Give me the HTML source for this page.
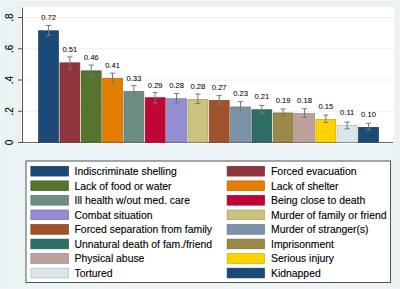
<!DOCTYPE html>
<html><head><meta charset="utf-8"><style>
html,body{margin:0;padding:0;width:400px;height:289px;overflow:hidden;background:#EAF2F3}
svg text{font-family:"Liberation Sans",sans-serif;stroke:#000;stroke-width:0.12px}
</style></head><body>
<svg width="400" height="289" viewBox="0 0 400 289" style="display:block"><rect x="0" y="0" width="400" height="289" fill="#EAF2F3"/><rect x="0.5" y="0.5" width="399" height="288" fill="none" stroke="#F1F7F8" stroke-width="1"/><rect x="21.5" y="7" width="373" height="137" fill="#fff"/><line x1="18" x2="393.5" y1="142.5" y2="142.5" stroke="#666" stroke-width="1"/><line x1="22.5" x2="394.5" y1="111.25" y2="111.25" stroke="#ECEFEF" stroke-width="1"/><line x1="22.5" x2="394.5" y1="80.00" y2="80.00" stroke="#ECEFEF" stroke-width="1"/><line x1="22.5" x2="394.5" y1="48.75" y2="48.75" stroke="#ECEFEF" stroke-width="1"/><line x1="22.5" x2="394.5" y1="17.50" y2="17.50" stroke="#ECEFEF" stroke-width="1"/><rect x="38.60" y="30.80" width="19.90" height="111.35" fill="#1C4A77" stroke="#163c61" stroke-width="0.7"/><rect x="59.93" y="62.85" width="19.90" height="79.30" fill="#90353B" stroke="#762b30" stroke-width="0.7"/><rect x="81.26" y="70.85" width="19.90" height="71.30" fill="#55752F" stroke="#455f26" stroke-width="0.7"/><rect x="102.59" y="78.25" width="19.90" height="63.90" fill="#E37E00" stroke="#ba6700" stroke-width="0.7"/><rect x="123.92" y="91.35" width="19.90" height="50.80" fill="#6E8E84" stroke="#5a746c" stroke-width="0.7"/><rect x="145.25" y="97.75" width="19.90" height="44.40" fill="#C10534" stroke="#9e042a" stroke-width="0.7"/><rect x="166.58" y="98.75" width="19.90" height="43.40" fill="#938DD2" stroke="#7873ac" stroke-width="0.7"/><rect x="187.91" y="99.35" width="19.90" height="42.80" fill="#CAC27E" stroke="#a59f67" stroke-width="0.7"/><rect x="209.24" y="100.35" width="19.90" height="41.80" fill="#A0522D" stroke="#834324" stroke-width="0.7"/><rect x="230.57" y="106.95" width="19.90" height="35.20" fill="#7B92A8" stroke="#647789" stroke-width="0.7"/><rect x="251.90" y="109.75" width="19.90" height="32.40" fill="#2D6D66" stroke="#245953" stroke-width="0.7"/><rect x="273.23" y="112.95" width="19.90" height="29.20" fill="#9C8847" stroke="#7f6f3a" stroke-width="0.7"/><rect x="294.56" y="113.60" width="19.90" height="28.55" fill="#BFA19C" stroke="#9c847f" stroke-width="0.7"/><rect x="315.89" y="119.35" width="19.90" height="22.80" fill="#FFD200" stroke="#d1ac00" stroke-width="0.7"/><rect x="337.22" y="125.35" width="19.90" height="16.80" fill="#D9E6EB" stroke="#b1bcc0" stroke-width="0.7"/><rect x="358.55" y="127.35" width="19.90" height="14.80" fill="#1C4A77" stroke="#163c61" stroke-width="0.7"/><path d="M48.55 25.60V35.40M45.95 25.60H51.15M45.95 35.40H51.15" stroke="#777" stroke-width="1" fill="none"/><text x="48.55" y="19.60" font-size="7.6" text-anchor="middle" fill="#000" style="stroke-width:0.05px">0.72</text><path d="M69.88 56.90V69.10M67.28 56.90H72.48M67.28 69.10H72.48" stroke="#777" stroke-width="1" fill="none"/><text x="69.88" y="51.70" font-size="7.6" text-anchor="middle" fill="#000" style="stroke-width:0.05px">0.51</text><path d="M91.21 65.10V75.90M88.61 65.10H93.81M88.61 75.90H93.81" stroke="#777" stroke-width="1" fill="none"/><text x="91.21" y="60.10" font-size="7.6" text-anchor="middle" fill="#000" style="stroke-width:0.05px">0.46</text><path d="M112.54 73.15V82.65M109.94 73.15H115.14M109.94 82.65H115.14" stroke="#777" stroke-width="1" fill="none"/><text x="112.54" y="67.80" font-size="7.6" text-anchor="middle" fill="#000" style="stroke-width:0.05px">0.41</text><path d="M133.87 85.60V96.40M131.27 85.60H136.47M131.27 96.40H136.47" stroke="#777" stroke-width="1" fill="none"/><text x="133.87" y="80.60" font-size="7.6" text-anchor="middle" fill="#000" style="stroke-width:0.05px">0.33</text><path d="M155.20 92.40V103.00M152.60 92.40H157.80M152.60 103.00H157.80" stroke="#777" stroke-width="1" fill="none"/><text x="155.20" y="87.60" font-size="7.6" text-anchor="middle" fill="#000" style="stroke-width:0.05px">0.29</text><path d="M176.53 93.50V103.00M173.93 93.50H179.13M173.93 103.00H179.13" stroke="#777" stroke-width="1" fill="none"/><text x="176.53" y="87.85" font-size="7.6" text-anchor="middle" fill="#000" style="stroke-width:0.05px">0.28</text><path d="M197.86 94.00V103.60M195.26 94.00H200.46M195.26 103.60H200.46" stroke="#777" stroke-width="1" fill="none"/><text x="197.86" y="88.60" font-size="7.6" text-anchor="middle" fill="#000" style="stroke-width:0.05px">0.28</text><path d="M219.19 95.60V104.40M216.59 95.60H221.79M216.59 104.40H221.79" stroke="#777" stroke-width="1" fill="none"/><text x="219.19" y="89.80" font-size="7.6" text-anchor="middle" fill="#000" style="stroke-width:0.05px">0.27</text><path d="M240.52 101.60V110.40M237.92 101.60H243.12M237.92 110.40H243.12" stroke="#777" stroke-width="1" fill="none"/><text x="240.52" y="95.60" font-size="7.6" text-anchor="middle" fill="#000" style="stroke-width:0.05px">0.23</text><path d="M261.85 105.40V113.00M259.25 105.40H264.45M259.25 113.00H264.45" stroke="#777" stroke-width="1" fill="none"/><text x="261.85" y="99.40" font-size="7.6" text-anchor="middle" fill="#000" style="stroke-width:0.05px">0.21</text><path d="M283.18 109.00V115.60M280.58 109.00H285.78M280.58 115.60H285.78" stroke="#777" stroke-width="1" fill="none"/><text x="283.18" y="103.35" font-size="7.6" text-anchor="middle" fill="#000" style="stroke-width:0.05px">0.19</text><path d="M304.51 108.75V117.50M301.91 108.75H307.11M301.91 117.50H307.11" stroke="#777" stroke-width="1" fill="none"/><text x="304.51" y="102.50" font-size="7.6" text-anchor="middle" fill="#000" style="stroke-width:0.05px">0.18</text><path d="M325.84 115.00V122.50M323.24 115.00H328.44M323.24 122.50H328.44" stroke="#777" stroke-width="1" fill="none"/><text x="325.84" y="108.50" font-size="7.6" text-anchor="middle" fill="#000" style="stroke-width:0.05px">0.15</text><path d="M347.17 122.00V128.75M344.57 122.00H349.77M344.57 128.75H349.77" stroke="#777" stroke-width="1" fill="none"/><text x="347.17" y="115.40" font-size="7.6" text-anchor="middle" fill="#000" style="stroke-width:0.05px">0.11</text><path d="M368.50 123.25V130.00M365.90 123.25H371.10M365.90 130.00H371.10" stroke="#777" stroke-width="1" fill="none"/><text x="368.50" y="117.35" font-size="7.6" text-anchor="middle" fill="#000" style="stroke-width:0.05px">0.10</text><line x1="22.5" x2="22.5" y1="7.5" y2="143.0" stroke="#555" stroke-width="1"/><line x1="18" x2="22.5" y1="142.50" y2="142.50" stroke="#555" stroke-width="1"/><text transform="translate(13.3 142.50) rotate(-90)" font-size="10" text-anchor="middle" fill="#000">0</text><line x1="18" x2="22.5" y1="111.25" y2="111.25" stroke="#555" stroke-width="1"/><text transform="translate(13.3 111.25) rotate(-90)" font-size="10" text-anchor="middle" fill="#000">.2</text><line x1="18" x2="22.5" y1="80.00" y2="80.00" stroke="#555" stroke-width="1"/><text transform="translate(13.3 80.00) rotate(-90)" font-size="10" text-anchor="middle" fill="#000">.4</text><line x1="18" x2="22.5" y1="48.75" y2="48.75" stroke="#555" stroke-width="1"/><text transform="translate(13.3 48.75) rotate(-90)" font-size="10" text-anchor="middle" fill="#000">.6</text><line x1="18" x2="22.5" y1="17.50" y2="17.50" stroke="#555" stroke-width="1"/><text transform="translate(13.3 17.50) rotate(-90)" font-size="10" text-anchor="middle" fill="#000">.8</text><rect x="26" y="161" width="364.5" height="121.5" fill="#fff" stroke="#555" stroke-width="1"/><rect x="30.85" y="166.35" width="37.6" height="9.7" fill="#1C4A77" stroke="#163c61" stroke-width="0.7"/><text x="74.5" y="175.10" font-size="10.4" fill="#000">Indiscriminate shelling</text><rect x="227.15" y="166.35" width="37.3" height="9.7" fill="#90353B" stroke="#762b30" stroke-width="0.7"/><text x="271" y="175.10" font-size="10.4" fill="#000">Forced evacuation</text><rect x="30.85" y="180.90" width="37.6" height="9.7" fill="#55752F" stroke="#455f26" stroke-width="0.7"/><text x="74.5" y="189.65" font-size="10.4" fill="#000">Lack of food or water</text><rect x="227.15" y="180.90" width="37.3" height="9.7" fill="#E37E00" stroke="#ba6700" stroke-width="0.7"/><text x="271" y="189.65" font-size="10.4" fill="#000">Lack of shelter</text><rect x="30.85" y="195.45" width="37.6" height="9.7" fill="#6E8E84" stroke="#5a746c" stroke-width="0.7"/><text x="74.5" y="204.20" font-size="10.4" fill="#000">Ill health w/out med. care</text><rect x="227.15" y="195.45" width="37.3" height="9.7" fill="#C10534" stroke="#9e042a" stroke-width="0.7"/><text x="271" y="204.20" font-size="10.4" fill="#000">Being close to death</text><rect x="30.85" y="210.00" width="37.6" height="9.7" fill="#938DD2" stroke="#7873ac" stroke-width="0.7"/><text x="74.5" y="218.75" font-size="10.4" fill="#000">Combat situation</text><rect x="227.15" y="210.00" width="37.3" height="9.7" fill="#CAC27E" stroke="#a59f67" stroke-width="0.7"/><text x="271" y="218.75" font-size="10.4" fill="#000">Murder of family or friend</text><rect x="30.85" y="224.55" width="37.6" height="9.7" fill="#A0522D" stroke="#834324" stroke-width="0.7"/><text x="74.5" y="233.30" font-size="10.4" fill="#000">Forced separation from family</text><rect x="227.15" y="224.55" width="37.3" height="9.7" fill="#7B92A8" stroke="#647789" stroke-width="0.7"/><text x="271" y="233.30" font-size="10.4" fill="#000">Murder of stranger(s)</text><rect x="30.85" y="239.10" width="37.6" height="9.7" fill="#2D6D66" stroke="#245953" stroke-width="0.7"/><text x="74.5" y="247.85" font-size="10.4" fill="#000">Unnatural death of fam./friend</text><rect x="227.15" y="239.10" width="37.3" height="9.7" fill="#9C8847" stroke="#7f6f3a" stroke-width="0.7"/><text x="271" y="247.85" font-size="10.4" fill="#000">Imprisonment</text><rect x="30.85" y="253.65" width="37.6" height="9.7" fill="#BFA19C" stroke="#9c847f" stroke-width="0.7"/><text x="74.5" y="262.40" font-size="10.4" fill="#000">Physical abuse</text><rect x="227.15" y="253.65" width="37.3" height="9.7" fill="#FFD200" stroke="#d1ac00" stroke-width="0.7"/><text x="271" y="262.40" font-size="10.4" fill="#000">Serious injury</text><rect x="30.85" y="268.20" width="37.6" height="9.7" fill="#D9E6EB" stroke="#b1bcc0" stroke-width="0.7"/><text x="74.5" y="276.95" font-size="10.4" fill="#000">Tortured</text><rect x="227.15" y="268.20" width="37.3" height="9.7" fill="#1C4A77" stroke="#163c61" stroke-width="0.7"/><text x="271" y="276.95" font-size="10.4" fill="#000">Kidnapped</text></svg>
</body></html>
